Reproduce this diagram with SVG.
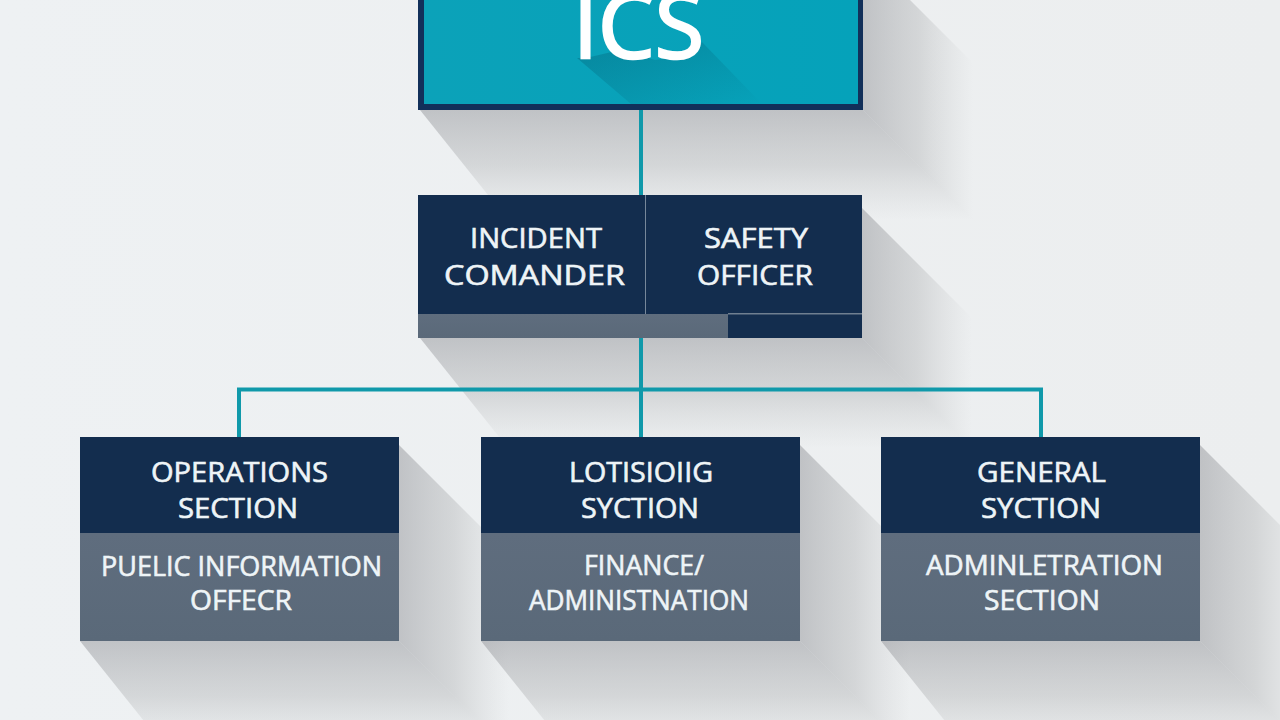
<svg xmlns="http://www.w3.org/2000/svg" width="1280" height="720" viewBox="0 0 1280 720">
<defs>
<linearGradient id="bg" x1="0" y1="0" x2="1" y2="0"><stop offset="0" stop-color="#eef1f3"/><stop offset="1" stop-color="#eceeef"/></linearGradient>
<linearGradient id="shB" x1="0" y1="0" x2="0" y2="1"><stop offset="0" stop-color="#8f9196" stop-opacity=".48"/><stop offset=".5" stop-color="#a3a5a7" stop-opacity=".34"/><stop offset="1" stop-color="#b5b7b8" stop-opacity="0"/></linearGradient>
<linearGradient id="shR" x1="0" y1="0" x2="1" y2="0"><stop offset="0" stop-color="#8f9196" stop-opacity=".48"/><stop offset=".5" stop-color="#a3a5a7" stop-opacity=".34"/><stop offset="1" stop-color="#b5b7b8" stop-opacity="0"/></linearGradient>
<linearGradient id="teal" x1="0" y1="0" x2="1" y2="0"><stop offset="0" stop-color="#0ba2b9"/><stop offset="1" stop-color="#05a2ba"/></linearGradient>
<linearGradient id="inner" x1="0" y1="0" x2="1" y2="1"><stop offset="0" stop-color="#04697f" stop-opacity=".48"/><stop offset="1" stop-color="#04697f" stop-opacity="0"/></linearGradient>
<linearGradient id="sl" x1="0" y1="0" x2="0" y2="1"><stop offset="0" stop-color="#5f6d7e"/><stop offset="1" stop-color="#5a6979"/></linearGradient>
</defs>
<style>
.navy{fill:#132d4e}
.slate{fill:url(#sl)}
.sb{fill:url(#shB)}
.sr{fill:url(#shR)}
.conn{stroke:#1099aa;stroke-width:4;fill:none}
text{font-family:"Open Sans","Noto Sans","Liberation Sans",sans-serif;font-size:27px;fill:#eef4f7;stroke:#eef4f7;stroke-width:.6px}
</style>
<rect width="1280" height="720" fill="url(#bg)"/>

<g id="shadows">
<polygon class="sb" points="420,110 863,110 973,220 508,220"/>
<polygon class="sr" points="863,-47 973,63 973,220 863,110"/>
<polygon class="sb" points="420,338 862,338 972,448 508,448"/>
<polygon class="sr" points="862,208 972,318 972,448 862,338"/>
<polygon class="sb" points="80,641 399,641 509,751 168,751"/>
<polygon class="sr" points="399,445 509,555 509,751 399,641"/>
<polygon class="sb" points="481,641 800,641 910,751 569,751"/>
<polygon class="sr" points="800,445 910,555 910,751 800,641"/>
<polygon class="sb" points="881,641 1200,641 1310,751 969,751"/>
<polygon class="sr" points="1200,445 1310,555 1310,751 1200,641"/>
</g>

<g id="connectors">
<path class="conn" d="M641 108V195M641 338V437M239 389.500H1041M239 387.500V437M1041 387.500V437"/>
</g>

<g id="ics">
<rect x="418" y="-6" width="445" height="116" fill="#12305a"/>
<rect x="424" y="-6" width="434" height="110" fill="url(#teal)"/>
<polygon points="577,58 631,104 762,104 702,42 694,54 655,60 620,50 586,58" fill="url(#inner)"/>
<text x="573" y="58" textLength="131" lengthAdjust="spacingAndGlyphs" style="font-size:90px;fill:#fff;stroke:#fff;stroke-width:2.500px">ICS</text>
</g>

<g id="command">
<rect class="navy" x="418" y="195" width="444" height="143"/>
<rect class="slate" x="418" y="314" width="310" height="24"/>
<rect x="728" y="313" width="134" height="1.500" fill="#6f7f90"/>
<rect x="645" y="195" width="1" height="119" fill="#76879a"/>
<text x="470" y="248" textLength="132" lengthAdjust="spacingAndGlyphs">INCIDENT</text>
<text x="444" y="285" textLength="181" lengthAdjust="spacingAndGlyphs">COMANDER</text>
<text x="704" y="248" textLength="104" lengthAdjust="spacingAndGlyphs">SAFETY</text>
<text x="697" y="285" textLength="116" lengthAdjust="spacingAndGlyphs">OFFICER</text>
</g>

<g id="operations">
<rect class="navy" x="80" y="437" width="319" height="96"/>
<rect class="slate" x="80" y="533" width="319" height="108"/>
<text x="151" y="482" textLength="177" lengthAdjust="spacingAndGlyphs">OPERATIONS</text>
<text x="178" y="518" textLength="120" lengthAdjust="spacingAndGlyphs">SECTION</text>
<text x="101" y="576" textLength="281" lengthAdjust="spacingAndGlyphs">PUELIC INFORMATION</text>
<text x="190" y="610" textLength="102" lengthAdjust="spacingAndGlyphs">OFFECR</text>
</g>

<g id="logistics">
<rect class="navy" x="481" y="437" width="319" height="96"/>
<rect class="slate" x="481" y="533" width="319" height="108"/>
<text x="569" y="482" textLength="144" lengthAdjust="spacingAndGlyphs">LOTISIOIIG</text>
<text x="581" y="518" textLength="118" lengthAdjust="spacingAndGlyphs">SYCTION</text>
<text x="584" y="575" textLength="120" lengthAdjust="spacingAndGlyphs">FINANCE/</text>
<text x="529" y="610" textLength="220" lengthAdjust="spacingAndGlyphs">ADMINISTNATION</text>
</g>

<g id="general">
<rect class="navy" x="881" y="437" width="319" height="96"/>
<rect class="slate" x="881" y="533" width="319" height="108"/>
<text x="977" y="482" textLength="129" lengthAdjust="spacingAndGlyphs">GENERAL</text>
<text x="981" y="518" textLength="120" lengthAdjust="spacingAndGlyphs">SYCTION</text>
<text x="926" y="575" textLength="237" lengthAdjust="spacingAndGlyphs">ADMINLETRATION</text>
<text x="984" y="610" textLength="116" lengthAdjust="spacingAndGlyphs">SECTION</text>
</g>
</svg>
